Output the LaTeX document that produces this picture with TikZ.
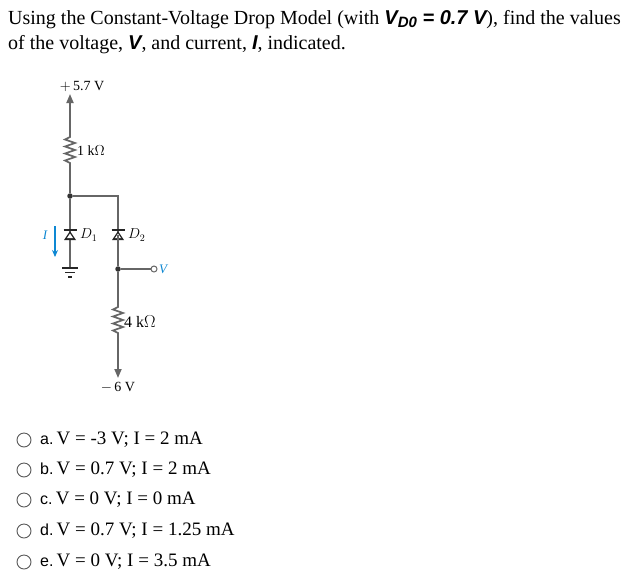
\documentclass[tikz,border=0pt]{standalone}
\usepackage{fontspec}
\setmainfont{Liberation Serif}
\newfontfamily\arialf{Liberation Sans}
\usetikzlibrary{arrows.meta}
\begin{document}
\begin{tikzpicture}[x=1pt,y=-1pt,
  wire/.style={draw=gray!80!black,line width=1.7pt},
  txt/.style={anchor=west,inner sep=0pt,font=\fontsize{20}{24}\selectfont},
  opt/.style={anchor=west,inner sep=0pt,font=\fontsize{19}{22}\selectfont},
  radio/.style={circle,draw=gray!70!black,line width=0.9pt,minimum size=14pt,inner sep=0pt},
  lab/.style={inner sep=1pt,font=\fontsize{14}{16}\selectfont},
  dot/.style={circle,fill=black!80,inner sep=0pt,minimum size=5.5pt}]
\fill[white] (0,0) rectangle (642,576);
\useasboundingbox (0,0) rectangle (642,576);
\node[txt] (t1) at (8,20) {Using the Constant-Voltage Drop Model (with {\arialf\bfseries\itshape V\raisebox{-3pt}{\fontsize{15}{16}\selectfont D0} = 0.7 V}), find the values};
\node[txt] (t2) at (8,45) {of the voltage, {\arialf\bfseries\itshape V}, and current, {\arialf\bfseries\itshape I}, indicated.};
% circuit
\coordinate (top) at (70,94);
\coordinate (r1a) at (70,135);
\coordinate (r1b) at (70,168);
\node[dot] (j1) at (70,196) {};
\coordinate (j1r) at (118,196);
\coordinate (d1) at (70,235);
\coordinate (d2) at (118,235);
\coordinate (g) at (70,268);
\node[dot] (j2) at (118,269) {};
\node[circle,draw=gray!80!black,line width=1pt,fill=white,inner sep=0pt,minimum size=6pt] (out) at (154,269) {};
\coordinate (r2a) at (118,305);
\coordinate (r2b) at (118,338);
\coordinate (bot) at (118,378);
\node[lab] (plab) at (82,86) {$+$\,5.7 V};
\node[lab] (mlab) at (118,387) {$-$\,6 V};
\draw[wire,-{Triangle[length=9pt,width=7pt]}] (r1a) -- (top);
\draw[wire] (r1a) -- ++(0,2) -- ++(-5,2.5) -- ++(10,3.5) -- ++(-10,3.5) -- ++(10,3.5) -- ++(-10,3.5) -- ++(10,3.5) -- ++(-10,3.5) -- ++(5,2.5) -- (r1b);
\node[lab,anchor=west] at (76,151) {1 k$\Omega$};
\draw[wire] (r1b) -- (j1) -- (j1r) -- (d2);
\draw[wire] (j1) -- (d1) -- (g);
\foreach \p/\n in {d1/D_1,d2/D_2}{
  \fill[black!85] ([xshift=-6pt,yshift=-5pt]\p) -- ([xshift=6pt,yshift=-5pt]\p) -- ([yshift=4pt]\p) -- cycle;
  \fill[white] ([xshift=-3pt,yshift=-3pt]\p) -- ([xshift=3pt,yshift=-3pt]\p) -- ([yshift=1.5pt]\p) -- cycle;
  \draw[black!85,line width=2pt] ([xshift=-6.5pt,yshift=5pt]\p) -- ([xshift=6.5pt,yshift=5pt]\p);
  \node[lab,anchor=west] at ([xshift=9pt]\p) {$\n$};
}
\draw[black!85,line width=1.6pt] (62,268) -- (78,268) (65,272.5) -- (75,272.5) (68,277) -- (72,277);
\draw[wire] (d2) -- (j2) -- (out);
\node[lab,anchor=west,text=cyan!70!blue,font=\itshape\fontsize{13}{14}\selectfont] at (158,269) {V};
\draw[wire] (j2) -- (r2a) -- ++(0,2) -- ++(-5,2.5) -- ++(10,3.5) -- ++(-10,3.5) -- ++(10,3.5) -- ++(-10,3.5) -- ++(10,3.5) -- ++(-10,3.5) -- ++(5,2.5) -- (r2b);
\node[lab,anchor=west,font=\fontsize{16}{18}\selectfont] at (123,322) {4 k$\Omega$};
\draw[wire,-{Triangle[length=9pt,width=7pt]}] (r2b) -- (bot);
\draw[cyan!70!blue,line width=1.4pt,-{Stealth[length=7pt,width=6pt]}] (55,226) -- (55,257);
\node[lab,text=cyan!70!blue,font=\itshape\fontsize{13}{14}\selectfont] at (45,235) {I};
% options
\foreach \y/\l/\t in {440/a./{V = -3 V; I = 2 mA},470/b./{V = 0.7 V; I = 2 mA},500/c./{V = 0 V; I = 0 mA},531/d./{V = 0.7 V; I = 1.25 mA},562/e./{V = 0 V; I = 3.5 mA}}{
  \node[radio] at (24,\y) {};
  \node[opt] at (40,\y) {{\arialf\fontsize{16}{19}\selectfont \l}\,\t};
}
\end{tikzpicture}
\end{document}
